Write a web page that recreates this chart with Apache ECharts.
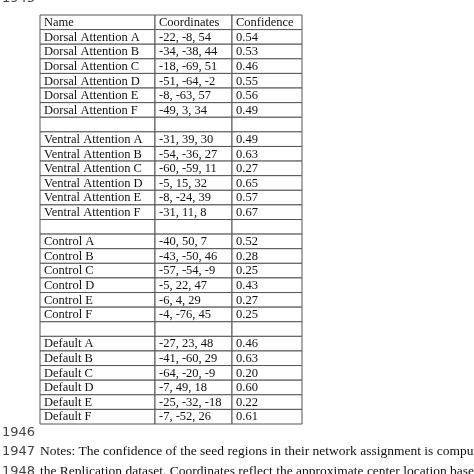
<!DOCTYPE html>
<html>
<head>
<meta charset="utf-8">
<script src="https://cdn.jsdelivr.net/npm/echarts@6/dist/echarts.min.js"></script>
<style>html,body{margin:0;padding:0;background:#fff}#c{width:474px;height:474px}</style>
</head>
<body>
<div id="c"></div>
<script>
var headers = ['Name', 'Coordinates', 'Confidence'];
var names = ['Dorsal Attention A','Dorsal Attention B','Dorsal Attention C','Dorsal Attention D','Dorsal Attention E','Dorsal Attention F','',
    'Ventral Attention A','Ventral Attention B','Ventral Attention C','Ventral Attention D','Ventral Attention E','Ventral Attention F','',
    'Control A','Control B','Control C','Control D','Control E','Control F','',
    'Default A','Default B','Default C','Default D','Default E','Default F'];
var coords = ['-22, -8, 54','-34, -38, 44','-18, -69, 51','-51, -64, -2','-8, -63, 57','-49, 3, 34','',
    '-31, 39, 30','-54, -36, 27','-60, -59, 11','-5, 15, 32','-8, -24, 39','-31, 11, 8','',
    '-40, 50, 7','-43, -50, 46','-57, -54, -9','-5, 22, 47','-6, 4, 29','-4, -76, 45','',
    '-27, 23, 48','-41, -60, 29','-64, -20, -9','-7, 49, 18','-25, -32, -18','-7, -52, 26'];
var confidence = ['0.54','0.53','0.46','0.55','0.56','0.49','',
    '0.49','0.63','0.27','0.65','0.57','0.67','',
    '0.52','0.28','0.25','0.43','0.27','0.25','',
    '0.46','0.63','0.20','0.60','0.22','0.61'];

var colEdges = [0, 115, 192, 262];
var rows = [headers].concat(names.map(function (n, i) { return [n, coords[i], confidence[i]]; }));
var rowIdx = rows.map(function (r, i) { return i; });

var data = [];
rows.forEach(function (r, i) {
    for (var c = 0; c < 3; c++) data.push([c, i, r[c]]);
});

var chart = echarts.init(document.getElementById('c'));
chart.setOption({
    backgroundColor: '#fff',
    animation: false,
    grid: { left: 40, top: 15, width: 262, height: 409 },
    xAxis: { type: 'value', min: 0, max: 262, show: false },
    yAxis: { type: 'category', data: rowIdx, inverse: true, show: false },
    series: [{
        type: 'custom',
        data: data,
        renderItem: function (params, api) {
            var c = api.value(0), r = api.value(1);
            var p0 = api.coord([colEdges[c], r]);
            var p1 = api.coord([colEdges[c + 1], r]);
            var h = api.size([0, 1])[1];
            return {
                type: 'group',
                children: [{
                    type: 'rect',
                    shape: { x: p0[0], y: p0[1] - h / 2, width: p1[0] - p0[0], height: h },
                    style: { fill: '#fff', stroke: '#555', lineWidth: 1 }
                }, {
                    type: 'text',
                    style: {
                        x: p0[0] + 4, y: p0[1] + 0.5, text: rows[r][c],
                        fill: '#111', font: '12.5px "Liberation Serif"', verticalAlign: 'middle'
                    }
                }]
            };
        }
    }],
    graphic: [
        { type: 'text', left: 2, top: -8, style: { text: '1945', font: '13px "DejaVu Sans"', fill: '#444' } },
        { type: 'text', left: 2, top: 426, style: { text: '1946', font: '13px "DejaVu Sans"', fill: '#444' } },
        { type: 'text', left: 2, top: 445, style: { text: '1947', font: '13px "DejaVu Sans"', fill: '#444' } },
        { type: 'text', left: 40, top: 444, style: { text: 'Notes: The confidence of the seed regions in their network assignment is computed from', font: '13.5px "Liberation Serif"', fill: '#111' } },
        { type: 'text', left: 2, top: 465, style: { text: '1948', font: '13px "DejaVu Sans"', fill: '#444' } },
        { type: 'text', left: 40, top: 464, style: { text: 'the Replication dataset. Coordinates reflect the approximate center location based on the', font: '13.5px "Liberation Serif"', fill: '#111' } }
    ]
});
</script>
</body>
</html>
